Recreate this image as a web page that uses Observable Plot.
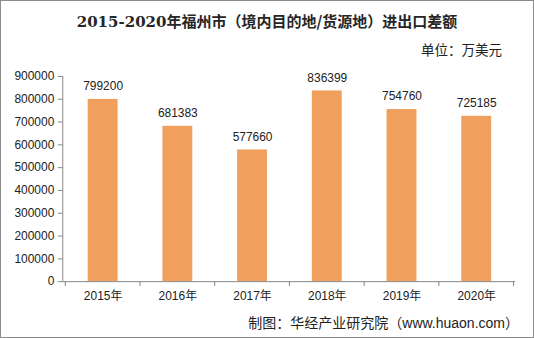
<!DOCTYPE html>
<html><head><meta charset="utf-8">
<script src="https://cdn.jsdelivr.net/npm/d3@7"></script>
<script src="https://cdn.jsdelivr.net/npm/@observablehq/plot@0.6"></script>
<style>
body{margin:0;background:#fff;}
#wrap{position:relative;width:534px;height:338px;box-sizing:border-box;border:1px solid #8c8c8c;background:#fff;font-family:"Liberation Sans",Arial,"Noto Sans CJK SC",sans-serif;color:#222;}
#title{position:absolute;left:0;width:532px;top:9px;text-align:center;font-family:"DejaVu Serif","Noto Sans CJK SC",serif;font-weight:bold;font-size:15px;color:#262626;}
#title .zh{font-family:"Noto Sans CJK SC",sans-serif;}
#unit{position:absolute;right:31px;top:38px;font-family:"Noto Sans CJK SC",sans-serif;font-size:13.5px;color:#222;}
#chart{position:absolute;left:0;top:60px;}
#caption{position:absolute;right:14px;top:311px;font-family:"Noto Sans CJK SC",sans-serif;font-size:14px;color:#222;}
#caption .en{font-family:"Liberation Sans",Arial,sans-serif;}
</style></head>
<body>
<div id="wrap">
<div id="title">2015-2020<span class="zh">年福州市（境内目的地/货源地）进出口差额</span></div>
<div id="unit">单位：万美元</div>
<div id="chart"></div>
<div id="caption">制图：华经产业研究院（<span class="en">www.huaon.com</span>）</div>
</div>
<script>
const years = ["2015年","2016年","2017年","2018年","2019年","2020年"];
const values = [799200, 681383, 577660, 836399, 754760, 725185];
const yTicks = [0,100000,200000,300000,400000,500000,600000,700000,800000,900000];

const data = years.map((y,i)=>({year:y, value:values[i]}));

const plot = Plot.plot({
  width: 534,
  height: 250,
  marginTop: 15,
  marginBottom: 29,
  marginLeft: 62,
  marginRight: 18,
  style: {fontFamily: '"Liberation Sans", Arial, "Noto Sans CJK SC", sans-serif', fontSize: "12px", color: "#262626", background: "transparent"},
  x: {domain: years, paddingInner: 0.6, paddingOuter: 0.3, label: null},
  y: {domain: [0, 900000], ticks: yTicks, label: null},
  marks: [
    Plot.barY(data, {x: "year", y: "value", fill: "#F0A05C"}),
    Plot.text(data, {x: "year", y: "value", text: d => String(d.value), dy: -13, fontSize: 12, fill: "#222"}),
    Plot.axisY({ticks: yTicks, tickFormat: d => String(d), tickSize: 5, tickPadding: 4, stroke: "#888", fill: "#222", fontSize: 12}),
    Plot.ruleY([0], {stroke: "#888"}),
    Plot.axisX({tickSize: 0, tickPadding: 10, fill: "#222", fontSize: 12})
  ]
});
document.getElementById("chart").appendChild(plot);

// y axis line and category boundary ticks derived from the library's scales
const xs = plot.scale("x");
const ys = plot.scale("y");
const svg = d3.select(plot);
const x0 = xs.range[0];
svg.append("line").attr("x1", x0).attr("x2", x0)
   .attr("y1", ys.apply(0)).attr("y2", ys.apply(900000))
   .attr("stroke", "#888");
const bounds = years.map(y => xs.apply(y) - xs.step * xs.paddingOuter)
  .concat([xs.apply(years[years.length-1]) + xs.bandwidth + xs.step * xs.paddingOuter]);
bounds.forEach(b => {
  svg.append("line").attr("x1", b).attr("x2", b)
     .attr("y1", ys.apply(0)).attr("y2", ys.apply(0) + 5)
     .attr("stroke", "#888");
});
</script>
</body></html>
